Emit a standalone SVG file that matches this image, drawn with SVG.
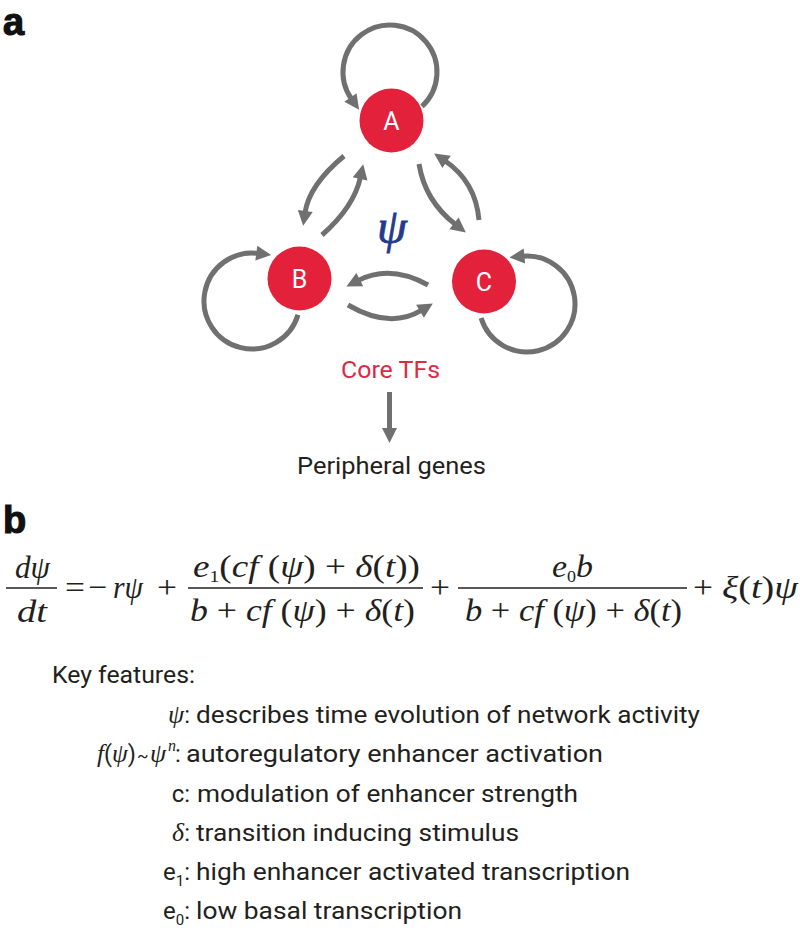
<svg xmlns="http://www.w3.org/2000/svg" width="800" height="937" viewBox="0 0 800 937">
<defs>
<style>
.conn{fill:none;stroke:#707070;stroke-width:5;marker-end:url(#ah)}
.node circle{fill:#e4213b}
.nlab{font-family:Roboto,"Liberation Sans",Arial,sans-serif;font-size:25px;fill:#ffffff;text-anchor:middle}
.panel{font-family:"Liberation Sans",Arial,sans-serif;font-weight:bold;font-size:38px;fill:#111;stroke:#111;stroke-width:1.2}
.sans{font-family:Roboto,"Liberation Sans",Arial,sans-serif;font-weight:400;font-size:24px;fill:#231f20}
.math{font-family:"Liberation Serif","Times New Roman",serif;font-size:32px;fill:#231f20}
.it{font-style:italic}
.ser{font-family:"Liberation Serif","Times New Roman",serif;font-style:italic;font-size:26px}
.sup{font-family:"Liberation Serif","Times New Roman",serif;font-style:italic;font-size:16px}
.sub{font-size:15px}
.bar{stroke:#231f20;stroke-width:1.6}
</style>
<marker id="ah" markerUnits="userSpaceOnUse" markerWidth="18" markerHeight="18" viewBox="-3 -9 18 18" refX="0" refY="0" orient="auto">
<path d="M-2,-7.5 L13,0 L-2,7.5 Z" fill="#707070"/>
</marker>
</defs>
<rect width="800" height="937" fill="#ffffff"/>

<text class="panel" x="3" y="35">a</text>
<text class="panel" x="3" y="533">b</text>

<g id="connectors">
<path class="conn" d="M422,106.4 A47,47 0 1 0 351.6,99.1"/>
<path class="conn" d="M298,314.7 A48,48 0 1 1 258.3,253.4"/>
<path class="conn" d="M481.1,318 A48,48 0 1 0 522.4,256.2"/>
<path class="conn" d="M344,156 Q309,185 305,213"/>
<path class="conn" d="M322,235 Q354,207 360.5,177"/>
<path class="conn" d="M419,164 Q425,201 455.6,224.6"/>
<path class="conn" d="M479,220 Q475.6,181.6 444.9,160.7"/>
<path class="conn" d="M428,285 Q390,264 358,280.6"/>
<path class="conn" d="M348,305 Q390,329.5 421.7,310.2"/>
<path class="conn" d="M389.5,392 L389.5,430"/>
</g>

<g id="node-A" class="node"><circle cx="391.5" cy="120.5" r="32"/><text class="nlab" x="391.5" y="129.5">A</text></g>
<g id="node-B" class="node"><circle cx="299.5" cy="278.5" r="32"/><text class="nlab" x="299.5" y="287.5">B</text></g>
<g id="node-C" class="node"><circle cx="484" cy="281.5" r="32"/><text class="nlab" x="484" y="290.5">C</text></g>

<text id="psi" x="392" y="243" font-family="Liberation Serif, Times New Roman, serif" font-style="italic" font-size="48" fill="#233a8f" stroke="#233a8f" stroke-width="0.8" text-anchor="middle">ψ</text>

<g id="core-tfs"><text class="sans" x="390.5" y="378" text-anchor="middle" style="fill:#dc2a44" textLength="99" lengthAdjust="spacingAndGlyphs">Core TFs</text></g>
<g id="peripheral"><text class="sans" x="297" y="474" textLength="189" lengthAdjust="spacingAndGlyphs">Peripheral genes</text></g>

<g id="equation" class="math">
<text class="it" x="15" y="578" textLength="35" lengthAdjust="spacingAndGlyphs">dψ</text>
<line class="bar" x1="6" y1="588" x2="57" y2="588"/>
<text class="it" x="17" y="622" textLength="30" lengthAdjust="spacingAndGlyphs">dt</text>
<text x="65" y="598" textLength="20" lengthAdjust="spacingAndGlyphs">=</text>
<text x="88" y="598" textLength="19" lengthAdjust="spacingAndGlyphs">−</text>
<text class="it" x="113" y="598" textLength="30" lengthAdjust="spacingAndGlyphs">rψ</text>
<text x="157" y="598" textLength="20" lengthAdjust="spacingAndGlyphs">+</text>
<text x="193" y="577" textLength="227" lengthAdjust="spacingAndGlyphs"><tspan class="it">e</tspan><tspan style="font-size:17px" dy="5">1</tspan><tspan dy="-5">(</tspan><tspan class="it">cf</tspan> (<tspan class="it">ψ</tspan>) + <tspan class="it">δ</tspan>(<tspan class="it">t</tspan>))</text>
<line class="bar" x1="188" y1="588" x2="423" y2="588"/>
<text x="190" y="621" textLength="225" lengthAdjust="spacingAndGlyphs"><tspan class="it">b</tspan> + <tspan class="it">cf</tspan> (<tspan class="it">ψ</tspan>) + <tspan class="it">δ</tspan>(<tspan class="it">t</tspan>)</text>
<text x="430" y="598" textLength="20" lengthAdjust="spacingAndGlyphs">+</text>
<text x="552" y="577" textLength="41" lengthAdjust="spacingAndGlyphs"><tspan class="it">e</tspan><tspan style="font-size:17px" dy="5">0</tspan><tspan class="it" dy="-5">b</tspan></text>
<line class="bar" x1="458" y1="588" x2="687" y2="588"/>
<text x="465" y="621" textLength="217" lengthAdjust="spacingAndGlyphs"><tspan class="it">b</tspan> + <tspan class="it">cf</tspan> (<tspan class="it">ψ</tspan>) + <tspan class="it">δ</tspan>(<tspan class="it">t</tspan>)</text>
<text x="693" y="598" textLength="20" lengthAdjust="spacingAndGlyphs">+</text>
<text x="722" y="598" textLength="76" lengthAdjust="spacingAndGlyphs"><tspan class="it">ξ</tspan>(<tspan class="it">t</tspan>)<tspan class="it">ψ</tspan></text>
</g>

<g id="key-features" class="sans">
<text x="52" y="683" textLength="143" lengthAdjust="spacingAndGlyphs">Key features:</text>

<text x="190" y="723" text-anchor="end"><tspan class="ser">ψ</tspan>:</text>
<text x="196" y="723" textLength="504" lengthAdjust="spacingAndGlyphs">describes time evolution of network activity</text>

<text x="97" y="762" textLength="39" lengthAdjust="spacingAndGlyphs"><tspan class="ser">f</tspan>(<tspan class="ser">ψ</tspan>)</text>
<text x="137" y="762" style="font-size:17px">~</text>
<text class="ser" x="150" y="762">ψ</text>
<text class="sup" x="168" y="751">n</text>
<text x="175" y="762">:</text>
<text x="186" y="762" textLength="417" lengthAdjust="spacingAndGlyphs">autoregulatory enhancer activation</text>

<text x="190" y="801.5" text-anchor="end">c:</text>
<text x="197" y="801.5" textLength="381" lengthAdjust="spacingAndGlyphs">modulation of enhancer strength</text>

<text x="190" y="840.5" text-anchor="end"><tspan class="ser">δ</tspan>:</text>
<text x="196" y="840.5" textLength="323" lengthAdjust="spacingAndGlyphs">transition inducing stimulus</text>

<text x="190" y="879.5" text-anchor="end">e<tspan class="sub" dy="6">1</tspan><tspan dy="-6">:</tspan></text>
<text x="196" y="879.5" textLength="434" lengthAdjust="spacingAndGlyphs">high enhancer activated transcription</text>

<text x="190" y="919" text-anchor="end">e<tspan class="sub" dy="6">0</tspan><tspan dy="-6">:</tspan></text>
<text x="196" y="919" textLength="266" lengthAdjust="spacingAndGlyphs">low basal transcription</text>
</g>
</svg>
